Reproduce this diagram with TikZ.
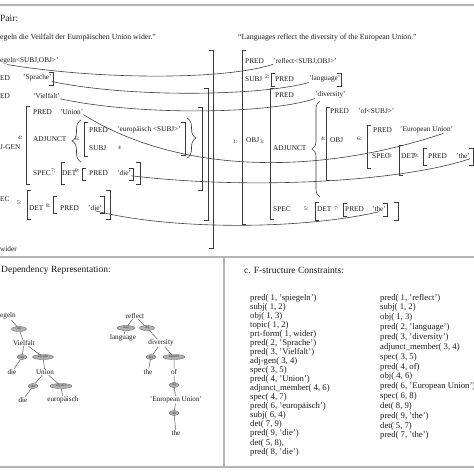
\documentclass[tikz,border=0pt]{standalone}
\usepackage{fontspec}
\setmainfont{Liberation Serif}
\usetikzlibrary{shapes.geometric,decorations.pathreplacing}
\definecolor{txt}{HTML}{1A1A1A}
\definecolor{brc}{HTML}{3A3A3A}
\definecolor{lnkc}{HTML}{404040}
\definecolor{panelc}{HTML}{B4B4B4}
\newcommand\LBk[3]{\draw[br] ({#1+4},#2) -- (#1,#2) -- (#1,#3) -- ({#1+4},#3);}
\newcommand\RBk[3]{\draw[br] ({#1-4},#2) -- (#1,#2) -- (#1,#3) -- ({#1-4},#3);}
\begin{document}
\begin{tikzpicture}[x=1pt,y=-1pt,
  t/.style={inner sep=0pt,anchor=west,text=txt,font=\fontsize{7.3}{8}\selectfont},
  ix/.style={inner sep=0pt,anchor=west,text=txt,font=\fontsize{5.5}{6}\selectfont},
  q/.style={inner sep=0pt,anchor=west,text=txt,font=\fontsize{7.8}{9}\selectfont},
  hd/.style={inner sep=0pt,anchor=west,text=txt,font=\fontsize{9.5}{11}\selectfont},
  cs/.style={inner sep=0pt,anchor=west,text=txt,font=\fontsize{8.7}{9}\selectfont},
  br/.style={draw=brc,line width=0.6pt},
  lnk/.style={draw=lnkc,line width=0.6pt},
  panel/.style={draw=panelc,line width=1.2pt},
  wd/.style={inner sep=0.6pt,text=txt,font=\fontsize{7.2}{8}\selectfont},
  lab/.style={ellipse,fill=gray!60,draw=gray!70!black,line width=0.3pt,inner sep=0pt,
     minimum height=5pt,text=black!80,font=\fontsize{3.5}{4}\selectfont},
  tedge/.style={draw=gray!70!black,line width=0.5pt},
  brace/.style={draw=brc,line width=0.6pt,decorate,decoration={brace,amplitude=#1}}
]
\useasboundingbox (0,0) rectangle (474,474);

% panel lines
\draw[panel] (0,5) -- (474,5);
\draw[panel] (0,257) -- (474,257);
\draw[panel] (0,467) -- (474,467);
\draw[panel] (224,257) -- (224,467);

% ---------- top panel ----------
\node[hd] (ttl) at (0,18) {Pair:};
\node[q] (qL) at (0,38) {egeln die Veilfalt der Europäischen Union wider.''};
\node[q] (qR) at (238,38) {``Languages reflect the diversity of the European Union.''};

% left f-structure
\node[t] (L1) at (0,61) {egeln<SUBJ,OBJ>'};
\node[t] (Lp2) at (0,78) {ED};
\node[t] (sprache) at (23,78) {'Sprache'};
\node[t] (Lp3) at (0,96) {ED};
\node[t] (viel) at (33,96) {'Vielfalt'};
\node[t] (Lp4) at (33,112) {PRED};
\node[t] (union) at (60,112) {'Union'};
\node[ix] (i4) at (18,138) {4:};
\node[t] (adjL) at (33,139) {ADJUNCT};
\node[ix] (i6) at (75,139) {6:};
\node[t] (jgen) at (0,147) {J-GEN};
\node[t] (Lp6) at (89,130) {PRED};
\node[t] (europ) at (117,130) {'europäisch <SUBJ>'};
\node[t] (Ls6) at (89,148) {SUBJ};
\node[ix] (i64) at (118,148) {4};
\node[t] (spec7) at (33,173) {SPEC};
\node[ix] (i7) at (51,171) {7:};
\node[t] (det7) at (62,173) {DET};
\node[ix] (i9) at (75,171) {9:};
\node[t] (Lp9) at (89,173) {PRED};
\node[t] (die9) at (117,173) {'die'};
\node[t] (ec) at (0,199) {EC};
\node[ix] (i5) at (17,203) {5:};
\node[t] (det5) at (29,208) {DET};
\node[ix] (i8) at (46,206) {8:};
\node[t] (Lp8) at (60,208) {PRED};
\node[t] (die8) at (88,208) {'die'};
\node[t] (wider) at (0,249) {wider};

\RBk{213}{50}{248}
\RBk{208}{88}{220}
\RBk{202}{107}{190}
\RBk{53}{72}{85}
\LBk{26}{106}{184}
\LBk{84}{122}{156}
\RBk{185}{122}{155}
\LBk{61}{162}{184}
\LBk{82}{168}{180}
\RBk{133}{168}{180}
\RBk{140}{162}{184}
\LBk{27}{190}{219}
\LBk{53}{196}{213}
\RBk{104}{196}{213}
\RBk{110}{190}{219}
\draw[brace=9pt] (81,162) -- (81,120);
\draw[brace=9pt] (187,118) -- (187,158);

% right f-structure
\node[t] (Rp1) at (245,61) {PRED};
\node[t] (R1) at (273,61) {'reflect<SUBJ,OBJ>'};
\node[t] (Rs) at (245,79) {SUBJ};
\node[ix] (j2) at (265,77) {2:};
\node[t] (Rp2) at (275,79) {PRED};
\node[t] (lang) at (309,79) {'language'};
\node[t] (Rp3) at (275,95) {PRED};
\node[t] (div) at (315,95) {'diversity'};
\node[ix] (j1) at (233,142) {1:};
\node[t] (Robj) at (246,140) {OBJ};
\node[ix] (j3) at (260,142) {3:};
\node[t] (adjR) at (273,148) {ADJUNCT};
\node[ix] (j4) at (321,139) {4:};
\node[t] (Robj4) at (330,140) {OBJ};
\node[ix] (j6) at (357,139) {6:};
\node[t] (Rp4) at (330,111) {PRED};
\node[t] (of) at (358,111) {'of<SUBJ>'};
\node[t] (Rp6) at (373,130) {PRED};
\node[t] (EU) at (400,130) {'European Union'};
\node[t] (spec8) at (372,156) {SPEC};
\node[ix] (j8) at (388,156) {8:};
\node[t] (det8) at (401,156) {DET};
\node[ix] (j9) at (414,156) {9:};
\node[t] (Rp9) at (428,156) {PRED};
\node[t] (the9) at (456,156) {'the'};
\node[t] (spec5) at (273,209) {SPEC};
\node[ix] (j5) at (304,209) {5:};
\node[t] (detR5) at (317,209) {DET};
\node[ix] (j7) at (334,209) {7:};
\node[t] (Rp7) at (345,209) {PRED};
\node[t] (the7) at (372,209) {'the'};

\LBk{242}{50}{224}
\LBk{271}{73}{86}
\RBk{341}{73}{86}
\LBk{270}{88}{219}
\draw[brace=8pt] (320,197) -- (320,101);
\LBk{326}{107}{180}
\LBk{367}{125}{168}
\LBk{399}{145}{175}
\LBk{423}{148}{165}
\RBk{473}{148}{165}
\LBk{315}{202}{220}
\LBk{343}{203}{216}
\RBk{387}{203}{216}
\RBk{398}{202}{220}

% alignment links
\draw[lnk] ([xshift=7pt]L1.south west) .. controls (100,80) and (225,80) .. (R1.south west);
\draw[lnk] (sprache.south east) .. controls (130,98) and (260,96) .. (lang.south west);
\draw[lnk] (viel.south east) .. controls (140,116) and (270,114) .. (div.south west);
\draw[lnk] (union.south east) .. controls (180,175) and (320,175) .. ([xshift=-10pt]EU.south east);
\draw[lnk] (die9.south east) .. controls (250,190) and (400,182) .. (the9.south east);
\draw[lnk] (die8.south) .. controls (170,230) and (300,230) .. (the7.south);

% ---------- bottom left: dependency ----------
\node[hd] (dttl) at (1,270) {Dependency Representation:};

\node[wd] (a0) at (8,316) {egeln};
\node[lab,minimum width=15pt] (a1) at (19,329) {obj};
\node[wd] (a2) at (24,343) {Vielfalt};
\node[lab,minimum width=10pt] (a3) at (22,357) {det};
\node[lab,minimum width=21pt] (a4) at (43,357) {adj-gen};
\node[wd] (a5) at (12,372) {die};
\node[wd] (a6) at (45,372) {Union};
\node[lab,minimum width=10pt] (a7) at (33,386) {det};
\node[lab,minimum width=22pt] (a8) at (61,386) {adjunct};
\node[wd] (a9) at (23,400) {die};
\node[wd] (a10) at (63,400) {europäisch};
\draw[tedge] (a0) -- (a1) -- (a2);
\draw[tedge] (a2) -- (a3) -- (a5);
\draw[tedge] (a2) -- (a4) -- (a6);
\draw[tedge] (a6) -- (a7) -- (a9);
\draw[tedge] (a6) -- (a8) -- (a10);

\node[wd] (b0) at (135,316) {reflect};
\node[lab,minimum width=18pt] (b1) at (126,328) {subj};
\node[lab,minimum width=15pt] (b2) at (147,328) {obj};
\node[wd] (b3) at (123,338) {language};
\node[wd] (b4) at (161,343) {diversity};
\node[lab,minimum width=10pt] (b5) at (151,357) {det};
\node[lab,minimum width=22pt] (b6) at (174,357) {adjunct};
\node[wd] (b7) at (148,372) {the};
\node[wd] (b8) at (174,372) {of};
\node[lab,minimum width=10pt] (b9) at (174,385) {obj};
\node[wd] (b10) at (176,400) {'European Union'};
\node[lab,minimum width=10pt] (b11) at (174,413) {det};
\node[wd] (b12) at (176,433) {the};
\draw[tedge] (b0) -- (b1) -- (b3);
\draw[tedge] (b0) -- (b2) -- (b4);
\draw[tedge] (b4) -- (b5) -- (b7);
\draw[tedge] (b4) -- (b6) -- (b8);
\draw[tedge] (b8) -- (b9) -- (b10);
\draw[tedge] (b10) -- (b11) -- (b12);

% ---------- bottom right: constraints ----------
\node[hd] (cttl) at (244,270) {c. F-structure Constraints:};
\foreach \s [count=\i from 0] in {{pred( 1, 'spiegeln')},{subj( 1, 2)},{obj( 1, 3)},{topic( 1, 2)},
  {prt-form( 1, wider)},{pred( 2, 'Sprache')},{pred( 3, 'Vielfalt')},{adj-gen( 3, 4)},{spec( 3, 5)},
  {pred( 4, 'Union')},{adjunct\_member( 4, 6)},{spec( 4, 7)},{pred( 6, 'europäisch')},{subj( 6, 4)},
  {det( 7, 9)},{pred( 9, 'die')},{det( 5, 8),},{pred( 8, 'die')}}
  \node[cs] (cl\i) at (250,{298+9.06*\i}) {\s};
\foreach \s [count=\i from 0] in {{pred( 1, 'reflect')},{subj( 1, 2)},{obj( 1, 3)},{pred( 2, 'language')},
  {pred( 3, 'diversity')},{adjunct\_member( 3, 4)},{spec( 3, 5)},{pred( 4, of)},{obj( 4, 6)},
  {pred( 6, 'European Union')},{spec( 6, 8)},{det( 8, 9)},{pred( 9, 'the')},{det( 5, 7)},{pred( 7, 'the')}}
  \node[cs] (cr\i) at (380,{298+9.85*\i}) {\s};
\end{tikzpicture}
\end{document}
